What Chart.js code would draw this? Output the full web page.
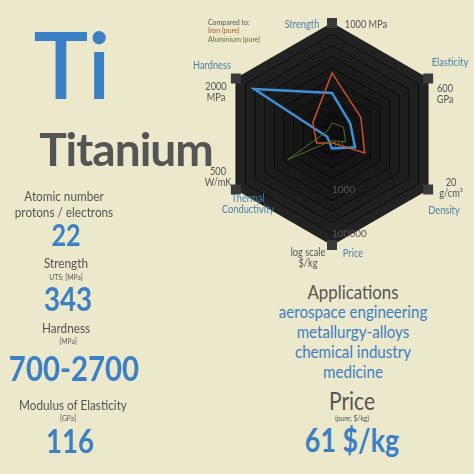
<!DOCTYPE html>
<html><head><meta charset="utf-8">
<script src="https://cdn.jsdelivr.net/npm/chart.js@4"></script>
<style>
body{margin:0;background:#ebe8cb;width:474px;height:474px;overflow:hidden;font-family:Lato,sans-serif;position:relative}
.t{position:absolute;transform:translate(-50%,-50%) scaleX(.84);white-space:nowrap;line-height:1;text-align:center;z-index:2}
.b{color:#3b7fc4}.g{color:#555}
#wrap{position:absolute;left:212px;top:14px;width:240px;height:240px;z-index:1}
</style></head><body>
<div class="t b" style="left:72px;top:64px;font-size:92px;font-weight:600;transform:translate(-50%,-50%)">Ti</div>
<div class="t g" style="left:126px;top:149px;font-size:46px;font-weight:bold;letter-spacing:-1px;transform:translate(-50%,-50%)">Titanium</div>
<div class="t g" style="left:64px;top:196px;font-size:14px">Atomic number</div>
<div class="t g" style="left:64px;top:212px;font-size:14px">protons / electrons</div>
<div class="t b" style="left:66px;top:234px;font-size:30px;font-weight:bold">22</div>
<div class="t g" style="left:66px;top:263px;font-size:14px">Strength</div>
<div class="t g" style="left:66px;top:277px;font-size:8px">UTS; [MPa]</div>
<div class="t b" style="left:68px;top:298px;font-size:33px;font-weight:bold">343</div>
<div class="t g" style="left:66px;top:328px;font-size:14px">Hardness</div>
<div class="t g" style="left:68px;top:341px;font-size:8px">[MPa]</div>
<div class="t b" style="left:74px;top:367px;font-size:35px;font-weight:bold">700-2700</div>
<div class="t g" style="left:73px;top:405px;font-size:14px">Modulus of Elasticity</div>
<div class="t g" style="left:68px;top:418px;font-size:8px">[GPa]</div>
<div class="t b" style="left:70px;top:440px;font-size:33px;font-weight:bold">116</div>

<div class="t g" style="left:353px;top:291px;font-size:20px">Applications</div>
<div class="t b" style="left:353px;top:311px;font-size:18px">aerospace engineering</div>
<div class="t b" style="left:353px;top:331px;font-size:18px">metallurgy-alloys</div>
<div class="t b" style="left:353px;top:351px;font-size:18px">chemical industry</div>
<div class="t b" style="left:353px;top:371px;font-size:18px">medicine</div>
<div class="t g" style="left:352px;top:400px;font-size:25px">Price</div>
<div class="t g" style="left:352px;top:418px;font-size:8px">(pure; $/kg)</div>
<div class="t b" style="left:352px;top:440px;font-size:32px;font-weight:bold">61 $/kg</div>

<div class="t g" style="font-size:7px;text-align:left;line-height:1.2;transform:none;left:208px;top:18px">Compared to:<br><span style="color:#b0552f">Iron (pure)</span><br><span style="color:#6b6b3a">Aluminium (pure)</span></div>
<div class="t b" style="left:302px;top:23px;font-size:11px;color:#4a7fa8">Strength</div>
<div class="t g" style="left:366px;top:23px;font-size:11px">1000 MPa</div>
<div class="t" style="left:450px;top:61px;font-size:11px;color:#4a7fa8">Elasticity</div>
<div class="t g" style="left:445px;top:93px;font-size:11px">600<br>GPa</div>
<div class="t g" style="left:451px;top:187px;font-size:11px">20<br>g/cm<sup style="font-size:6px">3</sup></div>
<div class="t" style="left:444px;top:209px;font-size:11px;color:#4a7fa8">Density</div>
<div class="t" style="left:353px;top:252px;font-size:11px;color:#4a7fa8">Price</div>
<div class="t g" style="left:308px;top:257px;font-size:11px">log scale<br>$/kg</div>
<div class="t" style="left:248px;top:203px;font-size:11px;color:#4a7fa8">Thermal<br>Conductivity</div>
<div class="t g" style="left:218px;top:176px;font-size:11px">500<br>W/mK</div>
<div class="t" style="left:212px;top:64px;font-size:11px;color:#4a7fa8">Hardness</div>
<div class="t g" style="left:216px;top:91px;font-size:11px">2000<br>MPa</div>

<div id="wrap"><canvas id="c"></canvas></div>
<script>
const axes=['Strength','Elasticity','Density','Price','Thermal Conductivity','Hardness'];
const titanium=[0.37,0.19,0.24,0.13,0.05,0.81];
const iron=[0.55,0.3,0.34,0.08,0.16,0.2];
const aluminium=[0.1,0.12,0.14,0.06,0.46,0.05];
const priceTicks=['10','1000','100000'];
const bg={id:'bg',beforeDatasetsDraw(ch){
 const s=ch.scales.r,ctx=ch.ctx,n=axes.length;
 for(let k=10;k>=1;k--){
  ctx.beginPath();
  for(let i=0;i<n;i++){const p=s.getPointPosition(i,s.getDistanceFromCenterForValue(k/10));i?ctx.lineTo(p.x,p.y):ctx.moveTo(p.x,p.y);}
  ctx.closePath();const v=Math.round(12+k*2.2);ctx.fillStyle=`rgb(${v},${v},${v})`;ctx.fill();
  ctx.strokeStyle='rgba(0,0,0,0.6)';ctx.lineWidth=1;ctx.stroke();
 }
 ctx.fillStyle='#3a3a3a';
 for(let i=0;i<n;i++){const p=s.getPointPosition(i,s.getDistanceFromCenterForValue(1));ctx.fillRect(p.x-5,p.y-5,10,10);}
 ctx.fillStyle='#555';ctx.font='10px Lato';ctx.textAlign='left';ctx.textBaseline='middle';
 priceTicks.forEach((t,j)=>{const p=s.getPointPosition(3,s.getDistanceFromCenterForValue(0.1+j*0.4));ctx.fillText(t,p.x,p.y);});
}};
new Chart(document.getElementById('c'),{type:'radar',
 data:{labels:axes,datasets:[
  {data:aluminium,borderColor:'#4f6e2a',borderWidth:1,fill:false,pointRadius:0},
  {data:iron,borderColor:'#c8502a',borderWidth:1.5,fill:false,pointRadius:0},
  {data:titanium,borderColor:'#3d8fd8',borderWidth:2.5,fill:false,pointRadius:0}]},
 options:{responsive:true,maintainAspectRatio:false,animation:false,layout:{padding:9},
  plugins:{legend:{display:false},tooltip:{enabled:false}},
  elements:{line:{tension:0}},
  scales:{r:{min:0,max:1,ticks:{display:false},pointLabels:{display:false},grid:{display:false},angleLines:{display:false}}}},
 plugins:[bg]});
</script></body></html>
